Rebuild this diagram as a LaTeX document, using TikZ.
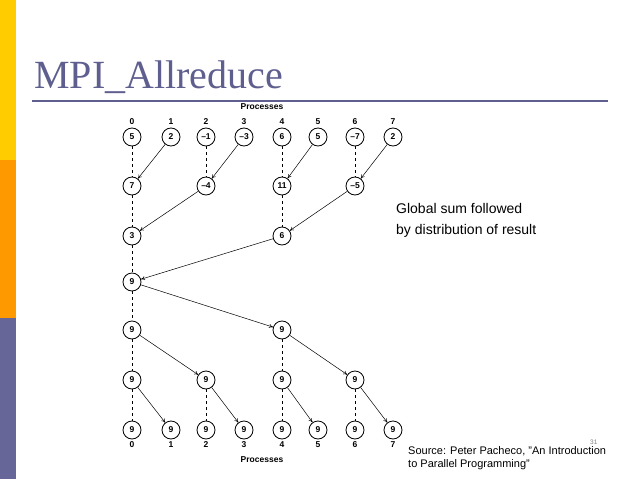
\documentclass[tikz,border=0pt]{standalone}
\usepackage{fontspec}
\setmainfont{Liberation Sans}
\newfontfamily\serifT{Liberation Serif}
\usetikzlibrary{arrows.meta}
\definecolor{ttl}{HTML}{5F5F8F}
\definecolor{barY}{HTML}{FFCC00}
\definecolor{barO}{HTML}{FF9900}
\definecolor{barP}{HTML}{666699}
\begin{document}
\begin{tikzpicture}[x=1pt,y=-1pt,
  pn/.style={circle,draw,line width=0.8pt,minimum size=18pt,inner sep=0pt,font=\fontsize{8.5}{8}\selectfont\bfseries},
  lb/.style={font=\fontsize{8.5}{8}\selectfont\bfseries},
  arr/.style={-{To[length=4pt,width=4pt]},line width=0.5pt},
  dsh/.style={dashed,line width=0.5pt}]
\useasboundingbox (0,0) rectangle (638,479);
\fill[barY] (0,0) rectangle (16,160);
\fill[barO] (0,160) rectangle (16,318);
\fill[barP] (0,318) rectangle (16,479);
\node[anchor=base west,text=ttl,font=\serifT\fontsize{40}{40}\selectfont,inner sep=0] (title) at (34,88) {MPI\_Allreduce};
\draw[ttl,line width=1.5pt] (32,101) -- (608,101);
\def\cx{{132,171,206,244,282,318,355,393}}
\node[lb] (ptop) at (262,107) {Processes};
\node[lb] (pbot) at (262,460) {Processes};
\foreach \i in {0,...,7}{
  \pgfmathsetmacro\xx{\cx[\i]}
  \node[lb] (t\i) at (\xx,122) {\i};
  \node[lb] (b\i) at (\xx,445) {\i};
}
\foreach \i/\v in {0/5,1/2,2/–1,3/–3,4/6,5/5,6/–7,7/2}{
  \pgfmathsetmacro\xx{\cx[\i]}
  \node[pn] (r0c\i) at (\xx,137) {\v};}
\foreach \i/\v in {0/7,2/–4,4/11,6/–5}{
  \pgfmathsetmacro\xx{\cx[\i]}
  \node[pn] (r1c\i) at (\xx,186) {\v};}
\node[pn] (r2c0) at (132,236) {3};
\node[pn] (r2c4) at (282,236) {6};
\node[pn] (r3c0) at (132,282) {9};
\node[pn] (r4c0) at (132,330) {9};
\node[pn] (r4c4) at (282,330) {9};
\foreach \i in {0,2,4,6}{
  \pgfmathsetmacro\xx{\cx[\i]}
  \node[pn] (r5c\i) at (\xx,380) {9};}
\foreach \i in {0,...,7}{
  \pgfmathsetmacro\xx{\cx[\i]}
  \node[pn] (r6c\i) at (\xx,430) {9};}
\foreach \a/\b in {0/1,2/3,4/5,6/7}{
  \draw[dsh] (r0c\a) -- (r1c\a);
  \draw[arr] (r0c\b) -- (r1c\a);}
\draw[dsh] (r1c0) -- (r2c0); \draw[arr] (r1c2) -- (r2c0);
\draw[dsh] (r1c4) -- (r2c4); \draw[arr] (r1c6) -- (r2c4);
\draw[dsh] (r2c0) -- (r3c0); \draw[arr] (r2c4) -- (r3c0);
\draw[dsh] (r3c0) -- (r4c0); \draw[arr] (r3c0) -- (r4c4);
\draw[dsh] (r4c0) -- (r5c0); \draw[arr] (r4c0) -- (r5c2);
\draw[dsh] (r4c4) -- (r5c4); \draw[arr] (r4c4) -- (r5c6);
\foreach \a/\b in {0/1,2/3,4/5,6/7}{
  \draw[dsh] (r5c\a) -- (r6c\a);
  \draw[arr] (r5c\a) -- (r6c\b);}
\node[anchor=north west,align=left,inner sep=0,font=\fontsize{14}{21}\selectfont] (gs) at (396,203) {Global sum followed\\by distribution of result};
\node[anchor=north west,inner sep=0,font=\fontsize{6.5}{7}\selectfont,text=gray] (pg) at (590,440) {31};
\node[anchor=north west,align=left,inner sep=0,font=\fontsize{11}{13.5}\selectfont] (src) at (408,446) {Source: Peter Pacheco, "An Introduction\\to Parallel Programming"};
\end{tikzpicture}
\end{document}
